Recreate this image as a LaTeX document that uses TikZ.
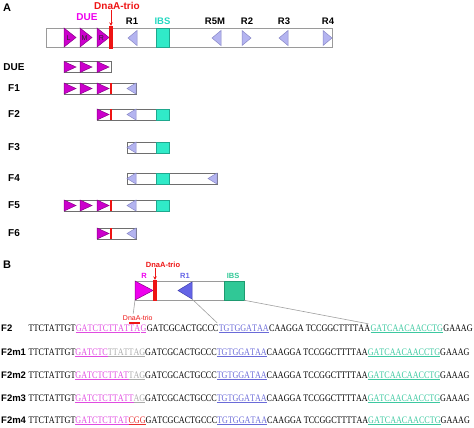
\documentclass[tikz,border=0pt]{standalone}
\usepackage{fontspec}
\setmainfont{Liberation Serif}
\setsansfont{Liberation Sans}
\newfontfamily\seqfont[FakeStretch=0.81,Kerning=Off]{Liberation Serif}
\usetikzlibrary{
  arrows.meta,
  positioning,
  calc
}
\definecolor{barGray}{HTML}{9A9A9A}
\definecolor{fragGray}{HTML}{6E6E6E}
\definecolor{dueMag}{HTML}{CC00CC}
\definecolor{dueEdge}{HTML}{8A008A}
\definecolor{dueText}{HTML}{EE00EE}
\definecolor{rLav}{HTML}{B4B4F0}
\definecolor{rLavEdge}{HTML}{8888C8}
\definecolor{ibsAqua}{HTML}{30EAC8}
\definecolor{ibsEdge}{HTML}{1FA88E}
\definecolor{ibsText}{HTML}{22D8C0}
\definecolor{trioRed}{HTML}{EE1414}
\definecolor{bMag}{HTML}{EE00EE}
\definecolor{bBlue}{HTML}{6464E6}
\definecolor{bBlueEdge}{HTML}{4040B0}
\definecolor{bGreen}{HTML}{30C896}
\definecolor{bGreenEdge}{HTML}{1E9A70}
\definecolor{linkGray}{HTML}{A0A0A0}
\definecolor{pinkSeq}{HTML}{E04BE0}
\definecolor{blueSeq}{HTML}{6A6AD8}
\definecolor{greenSeq}{HTML}{3CC8A0}
\definecolor{graySeq}{HTML}{AAAAAA}
\definecolor{redSeq}{HTML}{E83030}
\newcommand\seg[2]{\textcolor{#1}{\underline{#2}}}

\begin{document}
\begin{tikzpicture}[
      x=1bp, y=-1bp,
      >=Stealth,
      panel/.style={font=\sffamily\bfseries\fontsize{11bp}{12bp}\selectfont, inner sep=0},
      tag/.style={font=\sffamily\bfseries\fontsize{9.5bp}{10bp}\selectfont, inner sep=0},
      rowlab/.style={font=\sffamily\bfseries\fontsize{10bp}{11bp}\selectfont, inner sep=0},
      seqrow/.style={font=\sffamily\bfseries\fontsize{9.5bp}{10bp}\selectfont, inner sep=0, anchor=base west},
      btag/.style={font=\sffamily\bfseries\fontsize{7.5bp}{8bp}\selectfont, inner sep=0},
      inletter/.style={font=\sffamily\fontsize{7bp}{8bp}\selectfont, text=black!85, inner sep=0},
      mainbar/.style={draw=barGray, fill=white, line width=0.8bp},
      fragbar/.style={draw=fragGray, fill=white, line width=0.8bp},
      duetri/.style={fill=dueMag, draw=dueEdge, line width=0.5bp},
      rtri/.style={fill=rLav, draw=rLavEdge, line width=0.5bp},
      ibsbox/.style={fill=ibsAqua, draw=ibsEdge, line width=0.5bp, inner sep=0},
      triobar/.style={fill=trioRed, inner sep=0, minimum width=4bp},
      trioline/.style={draw=trioRed, line width=1.4bp},
      trioarrow/.style={->, trioRed, line width=0.8bp, >={Stealth[length=3.5bp,width=3.5bp]}},
      link/.style={draw=linkGray, line width=0.6bp, shorten >=2bp},
      seq/.style={font=\seqfont\fontsize{10bp}{11bp}\selectfont, inner sep=0, anchor=base west},
      seqlab/.style={font=\sffamily\fontsize{7bp}{8bp}\selectfont, text=trioRed, inner sep=0}
  ]
      \useasboundingbox (0,0) rectangle (474,427);

      % Painel A: mapa completo
      \node[panel] (pA) at (7,8) {A};
      \draw[mainbar] (46,28) rectangle (332,47);
      \foreach \x/\t in {64/L, 80/M, 97/R} {
        \draw[duetri] (\x,28) -- (\x,47) -- (\x+12,37.5) -- cycle;
        \node[inletter] (in\t) at (\x+4.5,38) {\t};
      }
      \node[triobar, minimum height=23bp] (trioA) at (111,37.5) {};
      \foreach \x in {137,221,288} \draw[rtri] (\x,30.5) -- (\x,45.5) -- (\x-9,38) -- cycle;
      \foreach \x in {242,323} \draw[rtri] (\x,30.5) -- (\x,45.5) -- (\x+9,38) -- cycle;
      \node[ibsbox, minimum width=13bp, minimum height=19bp] (ibsA) at (162.5,37.5) {};

      % Rótulos do mapa
      \node[tag, text=dueText, font=\sffamily\bfseries\fontsize{10bp}{11bp}\selectfont] (dueTag) at (87,17) {DUE};
      \node[tag, text=trioRed, font=\sffamily\bfseries\fontsize{10bp}{11bp}\selectfont] (trioTag) at (117,6) {DnaA-trio};
      \draw[trioarrow] (trioTag.south -| trioA.north) -- (trioA.north);
      \foreach \x/\t in {132/R1, 215/R5M, 247/R2, 284/R3, 328/R4} \node[tag] (tag\t) at (\x,21) {\t};
      \node[tag, text=ibsText] (tagIBS) at (162.5,21) {IBS};

      % Fragmentos
      \foreach \nm/\y/\xa/\xb in {DUE/61.5/64/111, F1/83/64/136, F2/109/97/169, F3/142/127/169, F4/173/127/217, F5/200/64/169, F6/228/97/136} {
        \node[rowlab] (lab\nm) at (14,\y+5.5) {\nm};
        \draw[fragbar] (\xa,\y) rectangle (\xb,\y+11);
      }
      \foreach \y in {61.5,83,200} \foreach \x in {64,80,97} \draw[duetri] (\x,\y) -- (\x,\y+11) -- (\x+12,\y+5.5) -- cycle;
      \foreach \y in {109,228} \draw[duetri] (97,\y) -- (97,\y+11) -- (109,\y+5.5) -- cycle;
      \foreach \y in {83,109,200,228} \draw[trioline] (111,\y) -- (111,\y+11);
      \foreach \y in {83,109,142,173,200,228} \draw[rtri] (136,\y) -- (136,\y+11) -- (127,\y+5.5) -- cycle;
      \foreach \y in {109,142,173,200} \draw[ibsbox] (156,\y) rectangle (169,\y+11);
      \draw[rtri] (217,173) -- (217,184) -- (208,178.5) -- cycle;

      % Painel B: fragmento F2
      \node[panel] (pB) at (7,265) {B};
      \draw[mainbar] (135,281) rectangle (244,300);
      \draw[fill=bMag, draw=dueEdge, line width=0.5bp] (135,281) -- (135,300) coordinate (dueB) -- (153,290.5) -- cycle;
      \node[triobar, minimum height=21bp] (trioB) at (155,290.5) {};
      \draw[fill=bBlue, draw=bBlueEdge, line width=0.5bp] (192,282) -- (192,299) coordinate (r1B) -- (178,290.5) -- cycle;
      \node[fill=bGreen, draw=bGreenEdge, line width=0.5bp, inner sep=0, minimum width=20bp, minimum height=19bp] (ibsB) at (234,290.5) {};
      \node[btag, text=bMag] (tagR) at (144,276) {R};
      \node[btag, text=bBlue] (tagR1B) at (185,276) {R1};
      \node[btag, text=bGreen] (tagIBSB) at (233,276) {IBS};
      \node[btag, text=trioRed] (trioTagB) at (163,265) {DnaA-trio};
      \draw[trioarrow] (trioTagB.south -| trioB.north) -- (trioB.north);

      % Sequências
      \node[seqrow] (labS2) at (1,331) {F2};
      \node[seq] (sA) at (28.5,331) {TTCTATTGT};
      \node[seq, base right=0pt of sA] (sB1) {\seg{pinkSeq}{GATCTCTTAT}};
      \node[seq, base right=0pt of sB1] (sB2) {\seg{pinkSeq}{TA}};
      \node[seq, base right=0pt of sB2] (sB3) {\seg{pinkSeq}{G}};
      \node[seq, base right=0pt of sB3] (sC) {GATCGCACTGCCC};
      \node[seq, base right=0pt of sC] (sD) {\seg{blueSeq}{TGTGGATAA}};
      \node[seq, base right=0pt of sD] (sE) {CAAGGA TCCGGCTTTTAA};
      \node[seq, base right=0pt of sE] (sF) {\seg{greenSeq}{GATCAACAACCTG}};
      \node[seq, base right=0pt of sF] (sG) {GAAAG};
      \draw[trioline, line width=1.2bp] ([yshift=1.2bp]sB2.north west) -- ([yshift=1.2bp]sB2.north east);
      \node[seqlab, above=3bp of sB2, xshift=3bp] (trioS) {DnaA-trio};

      \node[seqrow] (labM1) at (1,355) {F2m1};
      \node[seq] (m1) at (28.5,355) {TTCTATTGT\seg{pinkSeq}{GATCTC}\seg{graySeq}{TTATTAG}GATCGCACTGCCC\seg{blueSeq}{TGTGGATAA}CAAGGA TCCGGCTTTTAA\seg{greenSeq}{GATCAACAACCTG}GAAAG};
      \node[seqrow] (labM2) at (1,378) {F2m2};
      \node[seq] (m2) at (28.5,378) {TTCTATTGT\seg{pinkSeq}{GATCTCTTAT}\seg{graySeq}{TAG}GATCGCACTGCCC\seg{blueSeq}{TGTGGATAA}CAAGGA TCCGGCTTTTAA\seg{greenSeq}{GATCAACAACCTG}GAAAG};
      \node[seqrow] (labM3) at (1,401) {F2m3};
      \node[seq] (m3) at (28.5,401) {TTCTATTGT\seg{pinkSeq}{GATCTCTTATT}\seg{graySeq}{AG}GATCGCACTGCCC\seg{blueSeq}{TGTGGATAA}CAAGGA TCCGGCTTTTAA\seg{greenSeq}{GATCAACAACCTG}GAAAG};
      \node[seqrow] (labM4) at (1,423) {F2m4};
      \node[seq] (m4) at (28.5,423) {TTCTATTGT\seg{pinkSeq}{GATCTCTTAT}\seg{redSeq}{CGG}GATCGCACTGCCC\seg{blueSeq}{TGTGGATAA}CAAGGA TCCGGCTTTTAA\seg{greenSeq}{GATCAACAACCTG}GAAAG};

      % Ligações mapa-sequência
      \draw[link] (dueB) -- (trioS.150);
      \draw[link] (r1B) -- (sD.north west);
      \draw[link] (ibsB.south east) -- (sF.north west);
  \end{tikzpicture}
\end{document}
